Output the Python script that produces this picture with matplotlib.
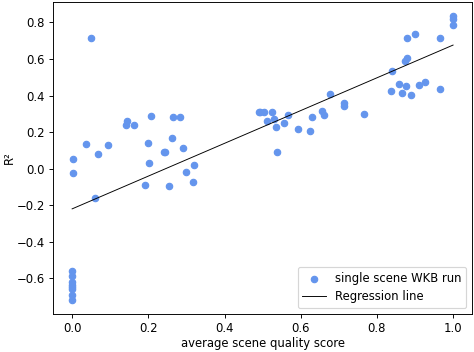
import numpy as np
import matplotlib
matplotlib.use('Agg')
import matplotlib.pyplot as plt

# average scene quality score vs R^2 for each single scene WKB run
quality = [
    0.049, 0.002, 0.002, 0.036, 0.068, 0.093, 0.142, 0.145, 0.163,
    0.206, 0.198, 0.203, 0.264, 0.283, 0.263, 0.240, 0.245, 0.291,
    0.321, 0.298, 0.190, 0.254, 0.316, 0.060,
    0.0, 0.0, 0.0, 0.0, 0.0, 0.0, 0.0, 0.0,
    0.490, 0.494, 0.504, 0.525, 0.512, 0.529, 0.535, 0.555, 0.566,
    0.538, 0.594, 0.624, 0.630, 0.656, 0.660, 0.676, 0.713, 0.713,
    0.765, 0.836, 0.841, 0.858, 0.867, 0.876, 0.890, 0.874, 0.880,
    0.878, 0.899, 0.910, 0.926, 0.966, 0.967, 0.999, 0.999, 0.999,
]
r2 = [
    0.717, 0.053, -0.023, 0.134, 0.078, 0.129, 0.241, 0.260, 0.241,
    0.290, 0.143, 0.033, 0.281, 0.281, 0.165, 0.093, 0.093, 0.112,
    0.022, -0.020, -0.089, -0.096, -0.074, -0.161,
    -0.562, -0.588, -0.622, -0.635, -0.648, -0.661, -0.691, -0.717,
    0.310, 0.310, 0.310, 0.310, 0.261, 0.272, 0.227, 0.250, 0.292,
    0.093, 0.218, 0.207, 0.283, 0.317, 0.294, 0.410, 0.357, 0.343,
    0.298, 0.423, 0.532, 0.463, 0.415, 0.453, 0.401, 0.589, 0.606,
    0.715, 0.738, 0.459, 0.475, 0.715, 0.434, 0.834, 0.820, 0.784,
]

# regression line end points
reg_x = [0.0, 1.0]
reg_y = [-0.22, 0.676]


def main():
    dpi = 84
    fig = plt.figure(figsize=(474 / dpi, 352 / dpi), dpi=dpi)
    ax = fig.add_axes([0.112, 0.108, 0.884, 0.886])
    ax.scatter(quality, r2, color='cornflowerblue', s=30,
               label='single scene WKB run')
    ax.plot(reg_x, reg_y, color='black', linewidth=0.8,
            label='Regression line')
    ax.set_xlim(-0.05, 1.05)
    ax.set_ylim(-0.795, 0.911)
    ax.set_xlabel('average scene quality score', labelpad=2)
    ax.set_ylabel('R²', labelpad=1)
    ax.legend(loc='lower right')
    fig.savefig('out.png', dpi=dpi)


if __name__ == '__main__':
    main()
